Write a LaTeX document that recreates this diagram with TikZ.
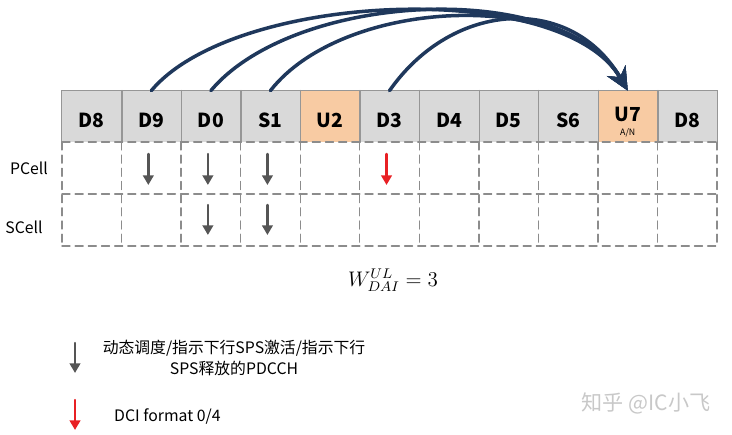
\documentclass[tikz,border=0pt]{standalone}
\usepackage{fontspec}
\setmainfont{Noto Sans CJK SC}
\usetikzlibrary{arrows.meta}

\definecolor{cellgray}{RGB}{217,217,217}
\definecolor{cellorange}{RGB}{248,203,163}
\definecolor{headgray}{RGB}{150,150,150}
\definecolor{gridgray}{RGB}{140,140,140}
\definecolor{arcblue}{RGB}{31,56,92}
\definecolor{markgray}{RGB}{85,85,85}
\definecolor{markred}{RGB}{232,32,36}
\definecolor{wmgray}{RGB}{200,200,200}

\tikzset{%
    cell/.style = {rectangle, minimum width = 1.191cm, minimum height = 1.02cm,
        inner sep = 0pt, text depth = 0pt, font = \fontsize{11}{13}\selectfont\bfseries},
    headline/.style = {draw = headgray, line width = 0.8pt},
    gridline/.style = {draw = gridgray, line width = 0.8pt, dash pattern = on 4.5pt off 3pt},
    arcline/.style = {draw = arcblue, line width = 2pt, -{Stealth[length = 13pt, width = 12pt]}},
    grayarrow/.style = {draw = markgray, line width = 1.4pt, -{Triangle[length = 5.5pt, width = 6pt]}},
    redarrow/.style = {draw = markred, line width = 1.4pt, -{Triangle[length = 5.5pt, width = 6pt]}},
    rowlabel/.style = {font = \fontsize{9}{11}\selectfont},
    legendtext/.style = {font = \fontsize{9}{12}\selectfont},
    watermark/.style = {text = wmgray, font = \fontsize{12}{14}\selectfont}
}

\begin{document}
\begin{tikzpicture}[%
        x = 0.02cm,
        y = 0.02cm,
        line cap = round
    ]

        % Keep the margins of the whole drawing.
        \useasboundingbox (0, 0) rectangle (732, 435);

        % Header row with the slot names.
        \foreach \name/\shade/\high [count = \i] in {D8/cellgray/12pt, D9/cellgray/12pt,
                D0/cellgray/12pt, S1/cellgray/12pt, U2/cellorange/12pt, D3/cellgray/12pt,
                D4/cellgray/12pt, D5/cellgray/12pt, S6/cellgray/12pt, U7/cellorange/6.2pt,
                D8/cellgray/12pt}
            \node[cell, fill = \shade, text height = \high] (c\i) at ({62 + 59.55*(\i - 0.5)}, 318.5) {\name};
        \node[font = \fontsize{5}{6}\selectfont] (an) at ([yshift = 0.2cm] c10.south) {A/N};

        % Solid outline of the header row.
        \draw[headline] (c1.south west) |- (c11.north east) -- (c11.south east);
        \foreach \i in {1, ..., 10}
            \draw[headline] (c\i.north east) -- (c\i.south east);

        % Dashed grid for the PCell and SCell rows.
        \foreach \y in {293, 241, 189}
            \draw[gridline] (62, \y) -- (717, \y);
        \foreach \i in {0, ..., 11}
            \draw[gridline] ({62 + 59.55*\i}, 293) -- ({62 + 59.55*\i}, 189);

        % Row labels.
        \node[rowlabel] (pcell) at (29, 267) {PCell};
        \node[rowlabel] (scell) at (24, 208) {SCell};

        % PDCCH marks in the PCell row, then in the SCell row.
        \foreach \i in {2, 3, 4}
            \draw[grayarrow] ({62 + 59.55*(\i - 0.5) - 3}, 281) -- ({62 + 59.55*(\i - 0.5) - 3}, 250);
        \draw[redarrow] ({62 + 59.55*5.5 - 3}, 281) -- ({62 + 59.55*5.5 - 3}, 250);
        \foreach \i in {3, 4}
            \draw[grayarrow] ({62 + 59.55*(\i - 0.5) - 3}, 230) -- ({62 + 59.55*(\i - 0.5) - 3}, 200);

        % Feedback arcs, all into U7.
        \draw[arcline] (c2.north) to[out = 50, in = 120, looseness = 0.7] (c10.north);
        \draw[arcline] (c3.north) to[out = 50, in = 120, looseness = 0.8] (c10.north);
        \draw[arcline] (c4.north) to[out = 52, in = 120, looseness = 0.85] (c10.north);
        \draw[arcline] (c6.north) to[out = 55, in = 120, looseness = 1.2] (c10.north);

        % Value of the counter.
        \node[font = \fontsize{12}{14}\selectfont] (wdai) at (393, 155) {$W_{DAI}^{UL} = 3$};

        % Legend.
        \draw[grayarrow] (75, 92) -- (75, 62);
        \node[legendtext, align = center] (pdcchtext) at (234, 77)
            {动态调度/指示下行SPS激活/指示下行\\SPS释放的PDCCH};
        \draw[redarrow] (75, 35) -- (75, 5);
        \node[legendtext, anchor = west] (dcitext) at (108, 18) {DCI format 0/4};

        % Watermark.
        \node[watermark] (zhihu) at (646, 32) {知乎 @IC小飞};
    \end{tikzpicture}
\end{document}
